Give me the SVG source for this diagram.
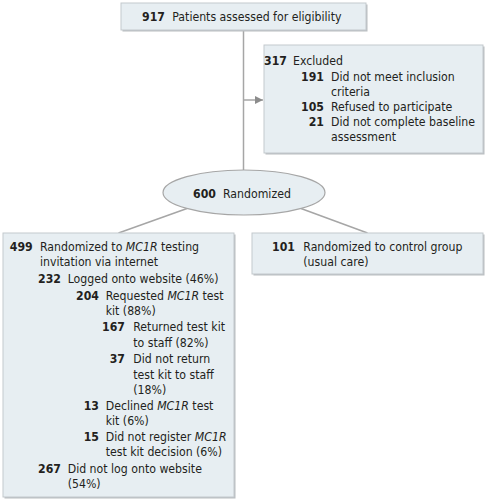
<svg xmlns="http://www.w3.org/2000/svg" width="487" height="500" viewBox="0 0 487 500">
<defs>
<style>
.shadow{fill:#b9bdc0}
.box{fill:#e7eef2;stroke:#c3c9cd;stroke-width:1}
text{font-family:"DejaVu Sans Condensed","DejaVu Sans","Liberation Sans",sans-serif;font-stretch:condensed;font-size:12.2px;fill:#231f20}
.n{font-weight:bold;text-anchor:end}
.conn{stroke:#a6a6a6;stroke-width:1.5;fill:none}
</style>
<marker id="arr" viewBox="0 0 10 10" refX="10" refY="5" markerWidth="8" markerHeight="8" markerUnits="userSpaceOnUse" orient="auto">
<path d="M0,0 L10,5 L0,10 z" fill="#8c8c8c"/>
</marker>
</defs>
<rect width="487" height="500" fill="#ffffff"/>

<g id="connectors">
<line class="conn" x1="243.5" y1="30" x2="243.5" y2="170"/>
<line class="conn" x1="243.5" y1="100" x2="263" y2="100" marker-end="url(#arr)"/>
<line class="conn" x1="187" y1="208.5" x2="118.5" y2="233"/>
<line class="conn" x1="301" y1="208.5" x2="367.5" y2="233"/>
</g>

<g id="assessed">
<rect class="shadow" x="122.5" y="4.5" width="245" height="27"/>
<rect class="box" x="121" y="3" width="245" height="27"/>
<text class="n" x="165" y="21">917</text>
<text x="172.3" y="21">Patients assessed for eligibility</text>
</g>

<g id="excluded">
<rect class="shadow" x="265.5" y="46.5" width="219" height="108"/>
<rect class="box" x="264" y="45" width="219" height="108"/>
<text class="n" x="287" y="64.5">317</text>
<text x="293" y="64.5">Excluded</text>
<text class="n" x="324" y="81">191</text>
<text x="331" y="81">Did not meet inclusion</text>
<text x="331" y="96">criteria</text>
<text class="n" x="324" y="111">105</text>
<text x="331" y="111">Refused to participate</text>
<text class="n" x="324" y="126">21</text>
<text x="331" y="126">Did not complete baseline</text>
<text x="331" y="141">assessment</text>
</g>

<g id="randomized">
<ellipse cx="244" cy="192.5" rx="81" ry="22.5" fill="#e7eef2" stroke="#a6a6a6" stroke-width="1.2"/>
<text class="n" x="216" y="197.5">600</text>
<text x="223" y="197.5">Randomized</text>
</g>

<g id="intervention">
<rect class="shadow" x="4.5" y="234.5" width="231" height="264"/>
<rect class="box" x="3" y="233" width="231" height="264"/>
<text class="n" x="32.7" y="251">499</text>
<text x="40" y="251">Randomized to <tspan font-style="italic">MC1R</tspan> testing</text>
<text x="40" y="266">invitation via internet</text>
<text class="n" x="61" y="283">232</text>
<text x="67.7" y="283">Logged onto website (46%)</text>
<text class="n" x="99" y="299.5">204</text>
<text x="105.7" y="299.5">Requested <tspan font-style="italic">MC1R</tspan> test</text>
<text x="105.7" y="314.5">kit (88%)</text>
<text class="n" x="125" y="331">167</text>
<text x="133.3" y="331">Returned test kit</text>
<text x="133.3" y="346.5">to staff (82%)</text>
<text class="n" x="125" y="363">37</text>
<text x="133.3" y="363">Did not return</text>
<text x="133.3" y="378.5">test kit to staff</text>
<text x="133.3" y="393.5">(18%)</text>
<text class="n" x="99" y="409.5">13</text>
<text x="105.7" y="409.5">Declined <tspan font-style="italic">MC1R</tspan> test</text>
<text x="105.7" y="424.5">kit (6%)</text>
<text class="n" x="99" y="441">15</text>
<text x="105.7" y="441">Did not register <tspan font-style="italic">MC1R</tspan></text>
<text x="105.7" y="456">test kit decision (6%)</text>
<text class="n" x="61" y="473">267</text>
<text x="67.7" y="473">Did not log onto website</text>
<text x="67.7" y="488">(54%)</text>
</g>

<g id="control">
<rect class="shadow" x="253.5" y="234.5" width="231" height="41"/>
<rect class="box" x="252" y="233" width="231" height="41"/>
<text class="n" x="295" y="251">101</text>
<text x="303.3" y="251">Randomized to control group</text>
<text x="303.3" y="266">(usual care)</text>
</g>
</svg>
